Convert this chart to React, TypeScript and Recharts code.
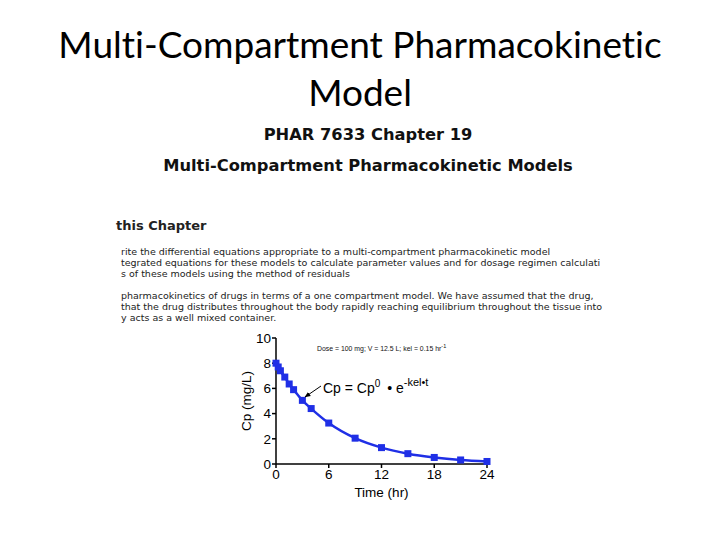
import { Label, Line, LineChart, XAxis, YAxis } from "recharts";

// concentration-time points
const timeHr = [0, 0.25, 0.5, 1, 1.5, 2, 3, 4, 6, 9, 12, 15, 18, 21, 24];
const cpMgL = [8.0, 7.7, 7.4, 6.9, 6.35, 5.9, 5.05, 4.4, 3.25, 2.05, 1.3, 0.82, 0.52, 0.32, 0.2];
const xTicks = [0, 6, 12, 18, 24];
const yTicks = [0, 2, 4, 6, 8, 10];

const bodyLines1 = [
  "rite the differential equations appropriate to a multi-compartment pharmacokinetic model",
  "tegrated equations for these models to calculate parameter values and for dosage regimen calculati",
  "s of these models using the method of residuals",
];
const bodyLines2 = [
  "pharmacokinetics of drugs in terms of a one compartment model. We have assumed that the drug,",
  "that the drug distributes throughout the body rapidly reaching equilibrium throughout the tissue into",
  "y acts as a well mixed container.",
];

const data = timeHr.map((t, i) => ({ t, cp: cpMgL[i] }));

const BLUE = "#1f2fe6";
const ARIAL = "'Liberation Sans', Arial, sans-serif";
const VERDANA = "'DejaVu Sans', Verdana, sans-serif";

function SquareDot(props: any) {
  const { cx, cy, index } = props;
  if (cx == null || cy == null) return null;
  return <rect key={`sq-${index}`} x={cx - 3.5} y={cy - 3.5} width={7} height={7} fill={BLUE} />;
}

export default function App() {
  return (
    <div
      style={{
        position: "absolute",
        left: 0,
        top: 0,
        width: 720,
        height: 540,
        background: "#fff",
        overflow: "hidden",
      }}
    >
      {/* slide title */}
      <div
        style={{
          position: "absolute",
          left: 0,
          top: 20,
          width: 720,
          textAlign: "center",
          fontFamily: "Lato, 'Open Sans', sans-serif",
          fontSize: 37,
          lineHeight: "48px",
          fontVariantLigatures: "none",
          color: "#000",
        }}
      >
        Multi-Compartment Pharmacokinetic
        <br />
        Model
      </div>

      {/* scanned page heading */}
      <div
        style={{
          position: "absolute",
          left: 0,
          top: 119,
          width: 736,
          textAlign: "center",
          fontFamily: VERDANA,
          fontWeight: "bold",
          fontSize: 16.3,
          lineHeight: "31px",
          color: "#111",
        }}
      >
        PHAR 7633 Chapter 19
        <br />
        Multi-Compartment Pharmacokinetic Models
      </div>

      {/* page text, cut at the page edges as in the scan */}
      <div
        style={{
          position: "absolute",
          left: 116,
          top: 216,
          width: 490,
          height: 110,
          fontFamily: VERDANA,
          color: "#222",
          whiteSpace: "nowrap",
        }}
      >
        <div style={{ position: "absolute", left: 0, top: 2, fontSize: 13, fontWeight: "bold" }}>this Chapter</div>
        {bodyLines1.map((s, i) => (
          <div key={s} style={{ position: "absolute", left: 5, top: 30 + i * 11, fontSize: 9.5 }}>
            {s}
          </div>
        ))}
        {bodyLines2.map((s, i) => (
          <div key={s} style={{ position: "absolute", left: 5, top: 74 + i * 11, fontSize: 9.5 }}>
            {s}
          </div>
        ))}
      </div>

      {/* the chart */}
      <div style={{ position: "absolute", left: 230, top: 325 }}>
        <LineChart width={280} height={190} data={data} margin={{ top: 13, right: 23, bottom: 11, left: 0 }}>
          <XAxis
            dataKey="t"
            type="number"
            domain={[0, 24]}
            ticks={xTicks}
            interval={0}
            tickSize={4}
            tickMargin={1}
            axisLine={{ stroke: "#000", strokeWidth: 1.5 }}
            tickLine={{ stroke: "#000", strokeWidth: 1.5 }}
            tick={{ fill: "#000", fontSize: 13.5, fontFamily: ARIAL }}
            height={40}
          >
            <Label value="Time (hr)" position="insideBottom" offset={7} fill="#000" fontSize={13.5} fontFamily={ARIAL} />
          </XAxis>
          <YAxis
            type="number"
            domain={[0, 10]}
            ticks={yTicks}
            interval={0}
            tickSize={4}
            tickMargin={1}
            axisLine={{ stroke: "#000", strokeWidth: 1.5 }}
            tickLine={{ stroke: "#000", strokeWidth: 1.5 }}
            tick={{ fill: "#000", fontSize: 13.5, fontFamily: ARIAL }}
            width={46}
          >
            <Label
              value="Cp (mg/L)"
              angle={-90}
              position="insideLeft"
              offset={16}
              fill="#000"
              fontSize={13.5}
              fontFamily={ARIAL}
              style={{ textAnchor: "middle" }}
            />
          </YAxis>
          <Line
            dataKey="cp"
            type="monotone"
            stroke={BLUE}
            strokeWidth={2.5}
            dot={SquareDot}
            activeDot={false}
            isAnimationActive={false}
          />
        </LineChart>
      </div>

      {/* annotations on the chart */}
      <svg
        width={720}
        height={540}
        style={{ position: "absolute", left: 0, top: 0, pointerEvents: "none" }}
      >
        <defs>
          <marker id="ah" viewBox="0 0 10 10" refX="9" refY="5" markerWidth="6" markerHeight="6" orient="auto">
            <path d="M0,1 L10,5 L0,9 z" fill="#000" />
          </marker>
        </defs>
        <text x={317} y={351} fontFamily={ARIAL} fontSize={6.9} fill="#111">
          Dose = 100 mg; V = 12.5 L; kel = 0.15 hr
          <tspan dy={-3} fontSize={5.5}>-1</tspan>
        </text>
        <line x1={321} y1={386} x2={305} y2={397} stroke="#000" strokeWidth={1} markerEnd="url(#ah)" />
        <text x={323} y={393} fontFamily={ARIAL} fontSize={14} fill="#000">
          Cp = Cp
          <tspan dy={-6} fontSize={10}>0</tspan>
          <tspan dy={6} dx={3}> • e</tspan>
          <tspan dy={-7} fontSize={11}>-kel•t</tspan>
        </text>
      </svg>
    </div>
  );
}
